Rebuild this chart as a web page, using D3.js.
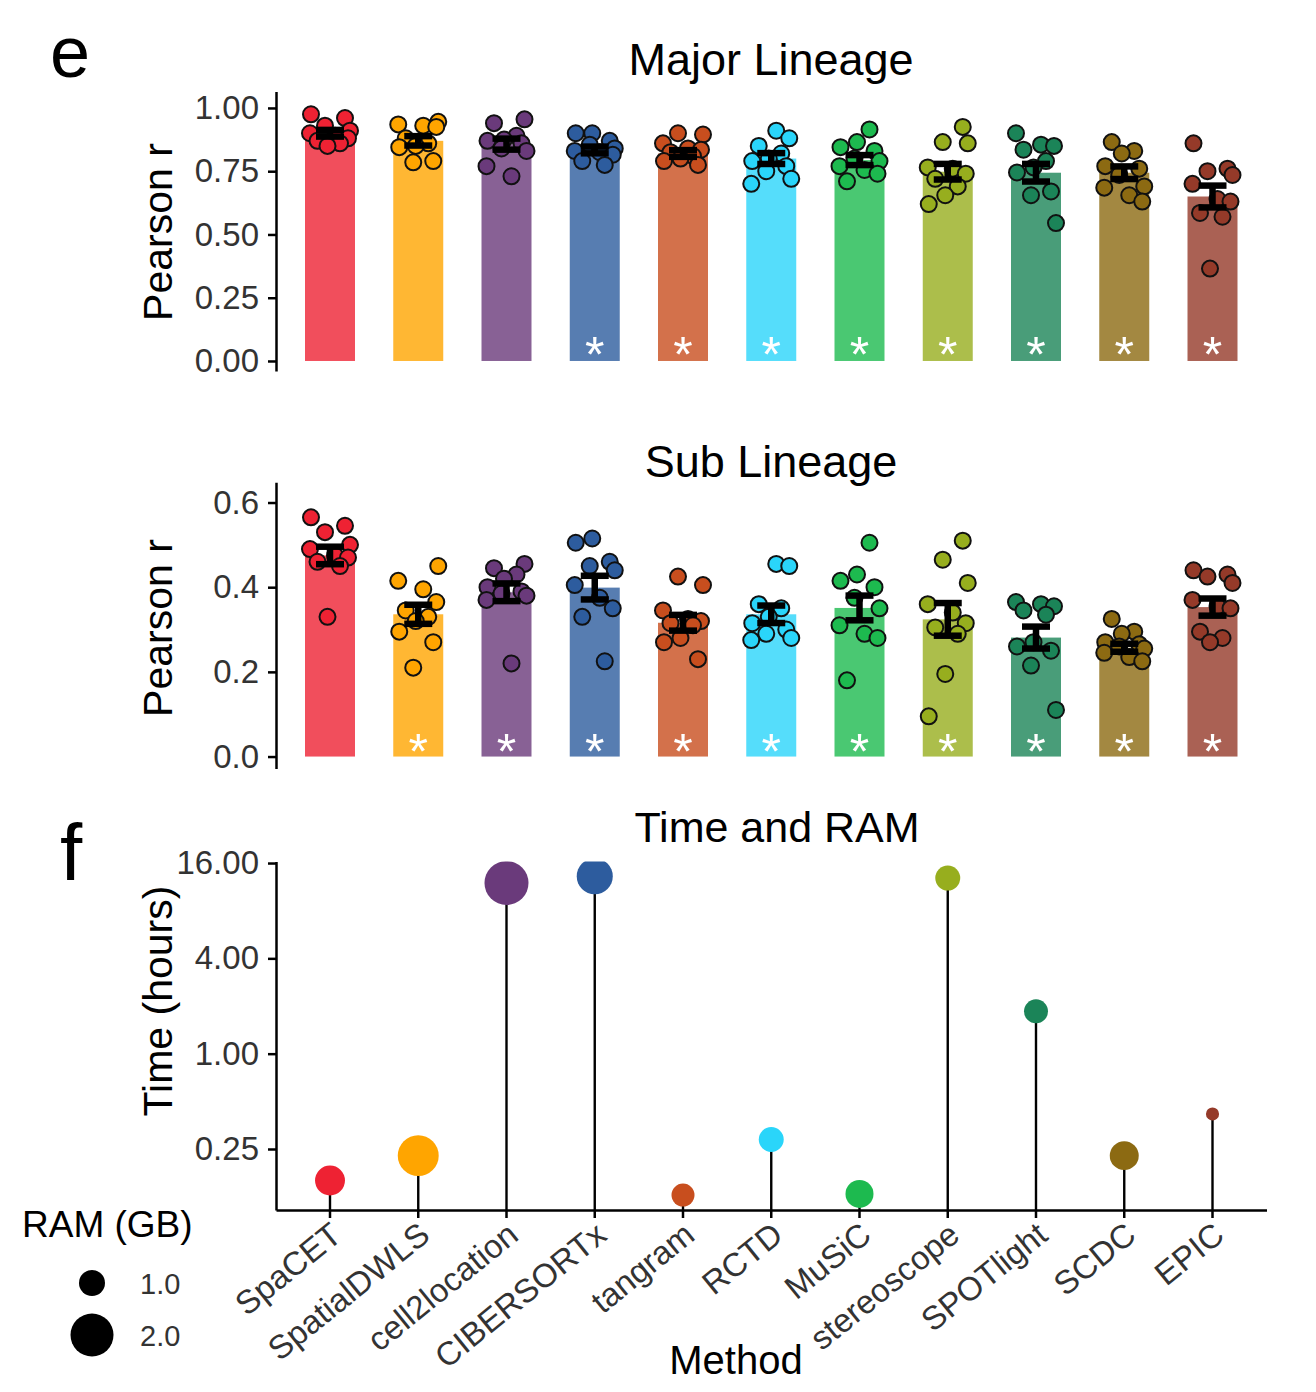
<!DOCTYPE html>
<html>
<head>
<meta charset="utf-8">
<script src="https://cdn.jsdelivr.net/npm/d3@7"></script>
<style>
body { margin: 0; background: #fff; }
text { font-family: "Liberation Sans", Arial, Helvetica, sans-serif; }
</style>
</head>
<body>
<svg id="chart" width="1316" height="1392"></svg>
<script>
// data
const methods = ["SpaCET", "SpatialDWLS", "cell2location", "CIBERSORTx", "tangram", "RCTD",
  "MuSiC", "stereoscope", "SPOTlight", "SCDC", "EPIC"];
const colors = ["#EE2233", "#FFA500", "#6A3A7B", "#2D5C9E", "#C84E1E", "#2AD5FA",
  "#1DBA4F", "#97AE1E", "#1B8458", "#8C6A12", "#953A29"];

const majorMeans = [0.90, 0.87, 0.857, 0.834, 0.82, 0.80, 0.794, 0.748, 0.744, 0.744, 0.65];
const majorPoints = [
  [0.975, 0.96, 0.93, 0.91, 0.90, 0.89, 0.88, 0.87, 0.86, 0.85],
  [0.945, 0.935, 0.93, 0.925, 0.88, 0.86, 0.85, 0.845, 0.79, 0.785],
  [0.955, 0.94, 0.89, 0.875, 0.87, 0.86, 0.84, 0.83, 0.77, 0.73],
  [0.90, 0.90, 0.87, 0.855, 0.84, 0.83, 0.825, 0.815, 0.79, 0.775],
  [0.90, 0.895, 0.86, 0.84, 0.835, 0.825, 0.81, 0.80, 0.79, 0.775],
  [0.91, 0.88, 0.85, 0.82, 0.80, 0.79, 0.77, 0.75, 0.72, 0.70],
  [0.915, 0.865, 0.845, 0.83, 0.80, 0.79, 0.77, 0.755, 0.74, 0.71],
  [0.925, 0.865, 0.86, 0.765, 0.76, 0.74, 0.72, 0.69, 0.655, 0.62],
  [0.90, 0.855, 0.85, 0.835, 0.79, 0.765, 0.745, 0.67, 0.655, 0.545],
  [0.865, 0.83, 0.82, 0.77, 0.76, 0.735, 0.69, 0.685, 0.655, 0.63],
  [0.86, 0.76, 0.75, 0.735, 0.70, 0.64, 0.63, 0.585, 0.57, 0.365]
];
const majorSig = [false, false, false, true, true, true, true, true, true, true, true];
const majorTicks = [0, 0.25, 0.5, 0.75, 1.0];

const subMeans = [0.475, 0.336, 0.388, 0.399, 0.316, 0.336, 0.351, 0.324, 0.281, 0.257, 0.353];
const subPoints = [
  [0.565, 0.545, 0.53, 0.50, 0.49, 0.475, 0.47, 0.46, 0.45, 0.33],
  [0.45, 0.415, 0.395, 0.365, 0.345, 0.33, 0.32, 0.295, 0.27, 0.21],
  [0.455, 0.445, 0.43, 0.42, 0.40, 0.39, 0.385, 0.38, 0.37, 0.22],
  [0.515, 0.505, 0.46, 0.45, 0.44, 0.405, 0.375, 0.35, 0.33, 0.225],
  [0.425, 0.405, 0.345, 0.325, 0.32, 0.315, 0.31, 0.28, 0.27, 0.23],
  [0.455, 0.45, 0.36, 0.35, 0.33, 0.315, 0.30, 0.29, 0.28, 0.275],
  [0.505, 0.43, 0.415, 0.40, 0.375, 0.35, 0.31, 0.29, 0.28, 0.18],
  [0.51, 0.465, 0.41, 0.36, 0.34, 0.315, 0.305, 0.29, 0.195, 0.095],
  [0.365, 0.36, 0.355, 0.345, 0.335, 0.27, 0.26, 0.25, 0.215, 0.11],
  [0.325, 0.295, 0.29, 0.27, 0.265, 0.26, 0.255, 0.245, 0.235, 0.225],
  [0.44, 0.43, 0.425, 0.41, 0.37, 0.355, 0.35, 0.295, 0.28, 0.27]
];
const subSig = [false, true, true, true, true, true, true, true, true, true, true];
const subTicks = [0, 0.2, 0.4, 0.6];

const timeHours = [0.158, 0.227, 11.97, 13.2, 0.128, 0.287, 0.13, 12.86, 1.85, 0.227, 0.416];
const ramGB = [1.20, 1.86, 2.07, 1.55, 0.86, 0.95, 1.10, 0.95, 0.905, 1.15, 0.47];
const timeTicks = [0.25, 1, 4, 16];
const ramLegend = [1.0, 2.0];

const svg = d3.select("#chart");
const font = 33;
const jitter = [-0.38, 0.3, -0.1, 0.4, -0.4, 0.1, 0.36, -0.25, 0.2, -0.05];

const x = d3.scaleBand()
  .domain(methods)
  .range([276, 1266.5])
  .paddingInner(0.4334)
  .paddingOuter(0.3286);
const cx = m => x(m) + x.bandwidth() / 2;

function styleAxis(g) {
  g.select(".domain").attr("stroke", "#000").attr("stroke-width", 2.5);
  g.selectAll(".tick line").attr("stroke", "#000").attr("stroke-width", 2.5);
  g.selectAll(".tick text").attr("font-size", font).attr("fill", "#333")
    .attr("font-family", '"Liberation Sans", Arial, sans-serif');
}

function barPanel(opt) {
  const y = d3.scaleLinear().domain(opt.domain).range(opt.range);
  const g = svg.append("g");

  g.append("text")
    .attr("x", 771).attr("y", opt.titleY)
    .attr("text-anchor", "middle").attr("font-size", 45)
    .text(opt.title);

  g.append("g")
    .attr("transform", "translate(276,0)")
    .call(d3.axisLeft(y).tickValues(opt.ticks).tickFormat(d3.format(opt.fmt))
      .tickSize(8).tickSizeOuter(0).tickPadding(9))
    .call(styleAxis);

  g.append("text")
    .attr("transform", "translate(172," + opt.labelY + ") rotate(-90)")
    .attr("text-anchor", "middle").attr("font-size", 41)
    .text("Pearson r");

  g.selectAll("rect.bar")
    .data(methods)
    .join("rect")
    .attr("class", "bar")
    .attr("x", d => x(d))
    .attr("width", x.bandwidth())
    .attr("y", (d, i) => y(opt.means[i]))
    .attr("height", (d, i) => y(0) - y(opt.means[i]))
    .attr("fill", (d, i) => colors[i])
    .attr("fill-opacity", 0.8);

  methods.forEach((m, i) => {
    const pts = opt.points[i];
    g.selectAll(null)
      .data(pts)
      .join("circle")
      .attr("cx", (d, j) => cx(m) + jitter[(j + i * 3) % jitter.length] * x.bandwidth())
      .attr("cy", d => y(d))
      .attr("r", 8)
      .attr("fill", colors[i])
      .attr("stroke", "#111")
      .attr("stroke-width", 2);

    const se = d3.deviation(pts) / Math.sqrt(pts.length);
    const lo = y(opt.means[i] - se), hi = y(opt.means[i] + se);
    const eb = g.append("g").attr("stroke", "#000").attr("stroke-width", 6.5);
    eb.append("line").attr("x1", cx(m)).attr("x2", cx(m)).attr("y1", lo).attr("y2", hi);
    eb.append("line").attr("x1", cx(m) - 14).attr("x2", cx(m) + 14).attr("y1", lo).attr("y2", lo);
    eb.append("line").attr("x1", cx(m) - 14).attr("x2", cx(m) + 14).attr("y1", hi).attr("y2", hi);

    if (opt.sig[i]) {
      g.append("text")
        .attr("x", cx(m)).attr("y", y(0) + opt.starDy)
        .attr("text-anchor", "middle").attr("font-size", 50)
        .attr("fill", "#fff")
        .text("*");
    }
  });
}

barPanel({
  title: "Major Lineage", titleY: 75, labelY: 232, starDy: 11,
  domain: [-0.04, 1.065], range: [371.1, 91.5],
  ticks: majorTicks, fmt: ".2f",
  means: majorMeans, points: majorPoints, sig: majorSig
});

barPanel({
  title: "Sub Lineage", titleY: 477, labelY: 628, starDy: 12,
  domain: [-0.028, 0.648], range: [768.4, 482.2],
  ticks: subTicks, fmt: ".1f",
  means: subMeans, points: subPoints, sig: subSig
});

// panel letters
svg.append("text").attr("x", 50).attr("y", 77).attr("font-size", 72)
  .attr("font-family", '"Open Sans", sans-serif').text("e");
svg.append("text").attr("x", 60).attr("y", 880).attr("font-size", 80).text("f");

// Time and RAM lollipop
const yT = d3.scaleLog().base(2)
  .domain([Math.pow(2, -3.28), Math.pow(2, 4.03)])
  .range([1210, 861.6]);
const rScale = d3.scaleSqrt().domain([1, 2]).range([13, 21.5]);

svg.append("text")
  .attr("x", 777).attr("y", 842)
  .attr("text-anchor", "middle").attr("font-size", 43)
  .text("Time and RAM");

svg.append("defs").append("clipPath").attr("id", "panelClip")
  .append("rect").attr("x", 276).attr("y", 861.6).attr("width", 990).attr("height", 348.4);

const lp = svg.append("g").attr("clip-path", "url(#panelClip)");
lp.selectAll("line")
  .data(methods)
  .join("line")
  .attr("x1", d => cx(d)).attr("x2", d => cx(d))
  .attr("y1", yT.range()[0])
  .attr("y2", (d, i) => yT(timeHours[i]))
  .attr("stroke", "#000").attr("stroke-width", 2.4);
lp.selectAll("circle")
  .data(methods)
  .join("circle")
  .attr("cx", d => cx(d))
  .attr("cy", (d, i) => yT(timeHours[i]))
  .attr("r", (d, i) => rScale(ramGB[i]))
  .attr("fill", (d, i) => colors[i]);

svg.append("g")
  .attr("transform", "translate(276,0)")
  .call(d3.axisLeft(yT).tickValues(timeTicks).tickFormat(d3.format(".2f"))
    .tickSize(8).tickSizeOuter(0).tickPadding(9))
  .call(styleAxis);

const xAxisG = svg.append("g")
  .attr("transform", "translate(0,1210)")
  .call(d3.axisBottom(x).tickSize(8).tickSizeOuter(0).tickPadding(4))
  .call(styleAxis);
xAxisG.selectAll(".tick text")
  .attr("text-anchor", "end")
  .attr("dy", "0.2em")
  .attr("transform", "translate(2,14) rotate(-39)");

svg.append("text")
  .attr("transform", "translate(172,1001) rotate(-90)")
  .attr("text-anchor", "middle").attr("font-size", 41)
  .text("Time (hours)");

svg.append("text")
  .attr("x", 736).attr("y", 1374)
  .attr("text-anchor", "middle").attr("font-size", 40)
  .text("Method");

// RAM legend
svg.append("text").attr("x", 22).attr("y", 1237).attr("font-size", 37).text("RAM (GB)");
const legY = [1283, 1335];
ramLegend.forEach((v, i) => {
  svg.append("circle").attr("cx", 92).attr("cy", legY[i]).attr("r", rScale(v)).attr("fill", "#000");
  svg.append("text").attr("x", 140).attr("y", legY[i] + 11)
    .attr("font-size", 29).attr("fill", "#333").text(d3.format(".1f")(v));
});
</script>
</body>
</html>
